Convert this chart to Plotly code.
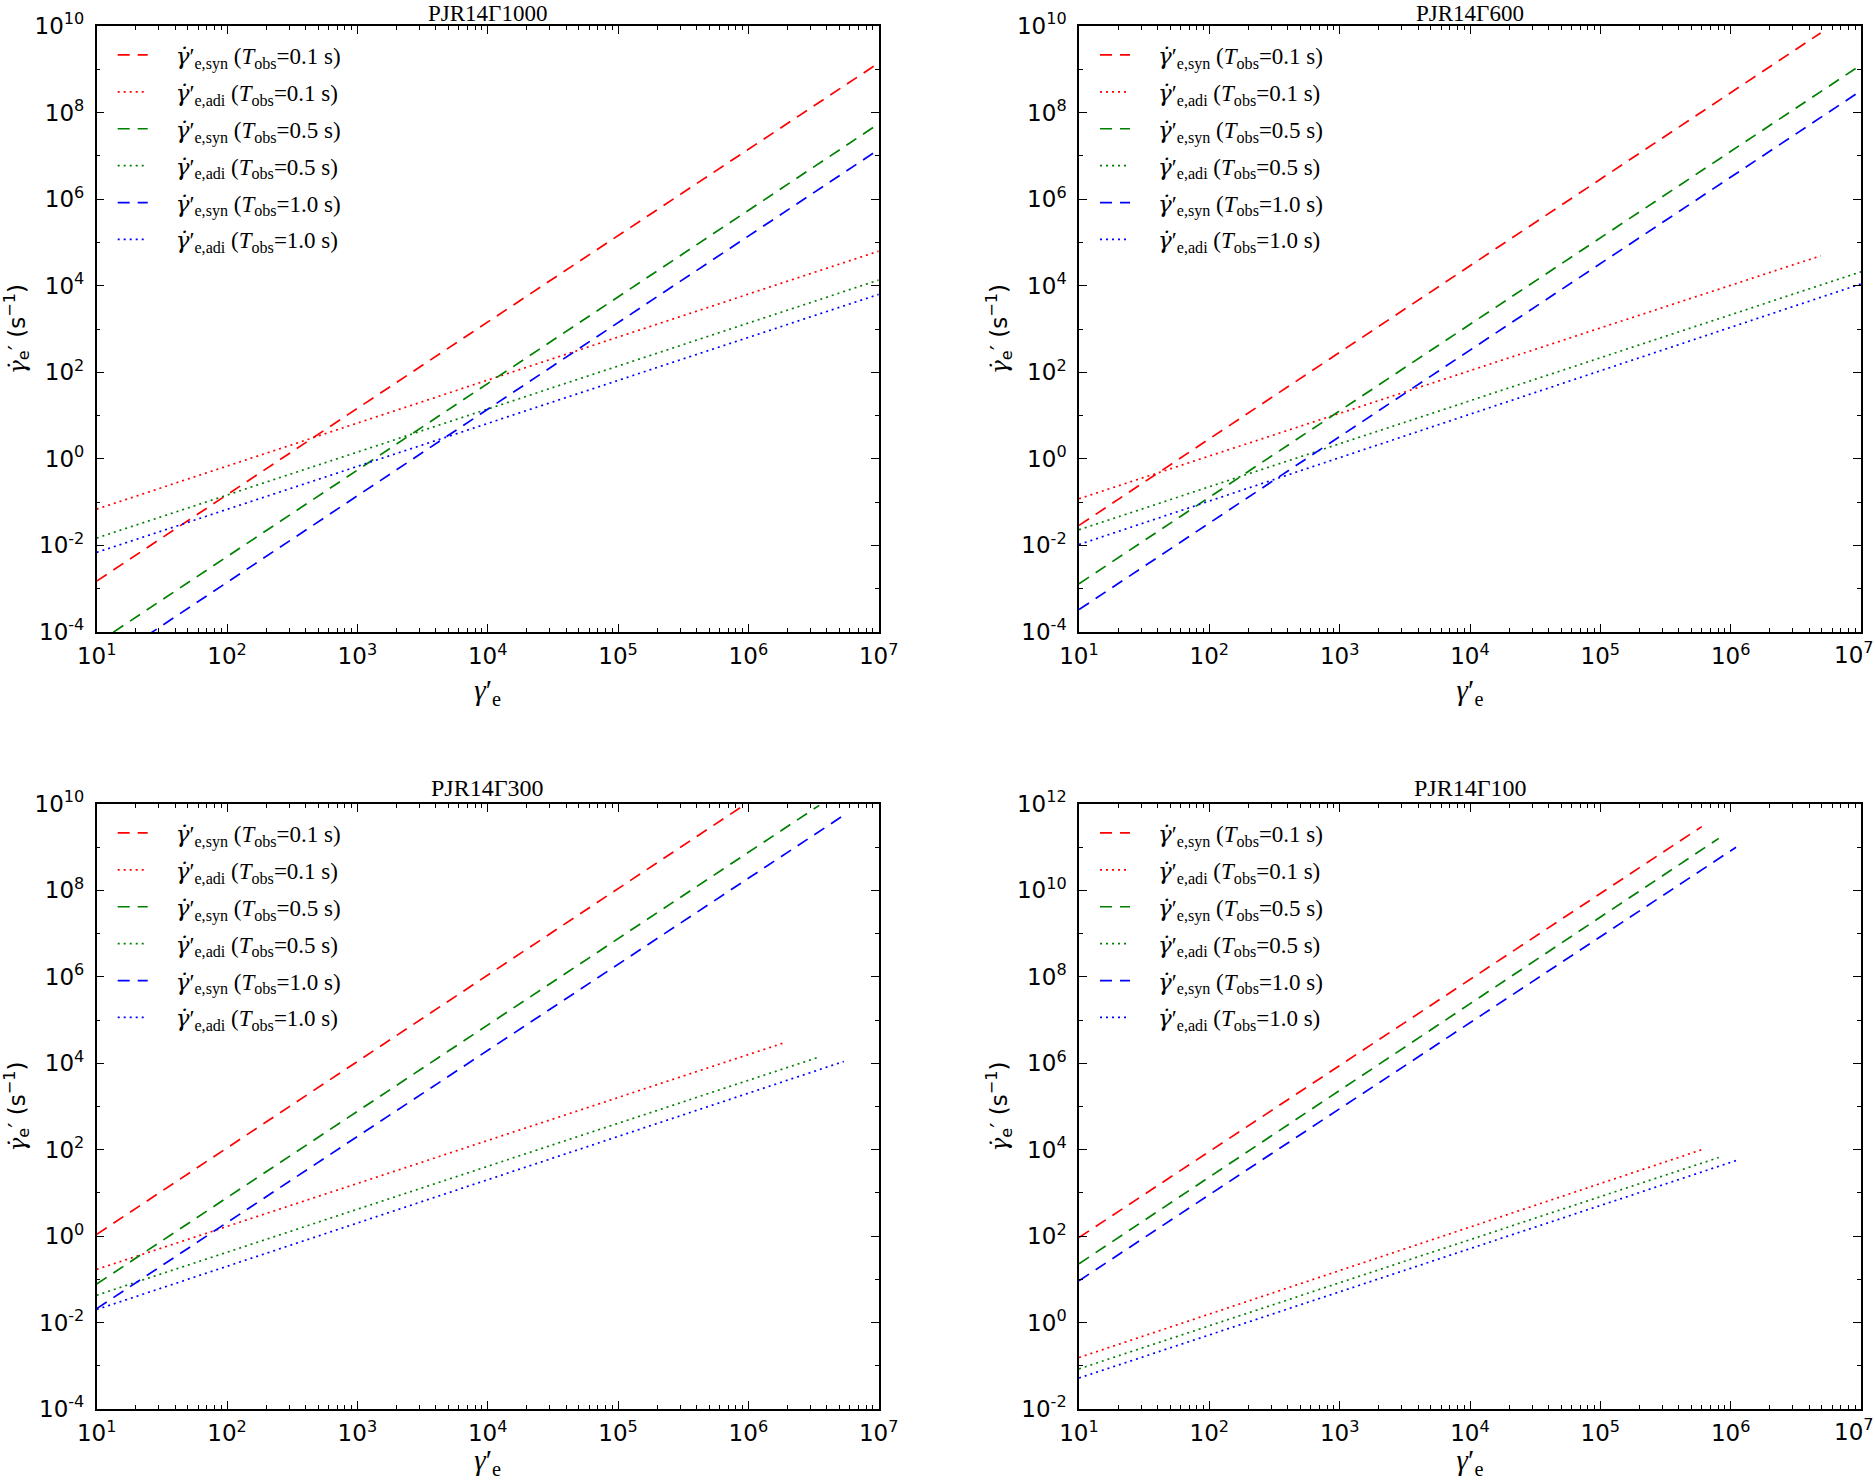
import plotly.graph_objects as go

# ---------------- data ----------------
panel_titles = ["PJR14Γ1000", "PJR14Γ600", "PJR14Γ300", "PJR14Γ100"]
GDOT = "<span style='font-family:DejaVu Serif'><i>γ̇</i></span>"
legend_labels = [
    GDOT + "′<sub>e,syn</sub> (<i>T</i><sub>obs</sub>=0.1 s)",
    GDOT + "′<sub>e,adi</sub> (<i>T</i><sub>obs</sub>=0.1 s)",
    GDOT + "′<sub>e,syn</sub> (<i>T</i><sub>obs</sub>=0.5 s)",
    GDOT + "′<sub>e,adi</sub> (<i>T</i><sub>obs</sub>=0.5 s)",
    GDOT + "′<sub>e,syn</sub> (<i>T</i><sub>obs</sub>=1.0 s)",
    GDOT + "′<sub>e,adi</sub> (<i>T</i><sub>obs</sub>=1.0 s)",
]
series_colors = ["#ff0000", "#ff0000", "#008000", "#008000", "#0000ff", "#0000ff"]
series_dash = ["12px,8px", "2px,4px", "12px,8px", "2px,4px", "12px,8px", "2px,4px"]

# gamma'_e start / end of each curve, per panel
g1000_gamma = [[10, 1e7], [10, 1e7], [10, 1e7], [10, 1e7], [10, 1e7], [10, 1e7]]
g1000_rate = [[1.5e-3, 1.4e9], [6.9e-2, 6.3e4], [5.5e-5, 5.5e7],
              [1.48e-2, 1.35e4], [1.4e-5, 1.4e7], [6.9e-3, 6.3e3]]

g600_gamma = [[10, 4.9e6], [10, 4.9e6], [10, 1e7], [10, 1e7], [10, 1e7], [10, 1e7]]
g600_rate = [[2.9e-2, 6.9e9], [1.2e-1, 4.9e4], [1.3e-3, 1.26e9],
             [2.3e-2, 2.1e4], [3.3e-4, 3.2e8], [1.05e-2, 1.1e4]]

g300_gamma = [[10, 1.86e6], [10, 1.86e6], [10, 3.5e6], [10, 3.5e6], [10, 5.4e6], [10, 5.4e6]]
g300_rate = [[1.1, 3.8e10], [1.7e-1, 2.95e4], [7.8e-2, 9.3e9],
             [4.3e-2, 1.4e4], [2.1e-2, 5.5e9], [2.0e-2, 1.1e4]]

g100_gamma = [[10, 6.0e5], [10, 6.0e5], [10, 8.1e5], [10, 8.1e5], [10, 1.1e6], [10, 1.1e6]]
g100_rate = [[93, 3.0e11], [1.55e-1, 1.0e4], [23, 1.6e11],
             [8.5e-2, 6.6e3], [9.3, 1.0e11], [5.2e-2, 5.6e3]]

panel_gamma = [g1000_gamma, g600_gamma, g300_gamma, g100_gamma]
panel_rate = [g1000_rate, g600_rate, g300_rate, g100_rate]

x_decades = [1, 2, 3, 4, 5, 6, 7]
y_decades = [[-4, -2, 0, 2, 4, 6, 8, 10], [-4, -2, 0, 2, 4, 6, 8, 10],
             [-4, -2, 0, 2, 4, 6, 8, 10], [-2, 0, 2, 4, 6, 8, 10, 12]]

# ---------------- layout geometry ----------------
W, H = 1875, 1480
col_x = [(96.7, 878.7), (1079.0, 1861.0)]
row_y = [(26.0, 632.0), (804.0, 1409.0)]

def px2x(p):
    return p / W

def px2y(p):
    return 1 - p / H

fig = go.Figure()

TICKFONT = dict(family="DejaVu Sans", size=23, color="black")
SERIF = "Liberation Serif"

def sup(n):
    return "10<sup>%d</sup>" % n

layout_upd = {}
annotations = []
for i in range(4):
    r, c = divmod(i, 2)
    xa = "x" if i == 0 else "x%d" % (i + 1)
    ya = "y" if i == 0 else "y%d" % (i + 1)
    xkey = "xaxis" if i == 0 else "xaxis%d" % (i + 1)
    ykey = "yaxis" if i == 0 else "yaxis%d" % (i + 1)
    lkey = "legend" if i == 0 else "legend%d" % (i + 1)

    for k in range(6):
        fig.add_trace(go.Scatter(
            x=panel_gamma[i][k], y=panel_rate[i][k], mode="lines",
            name="\u00a0\u00a0\u00a0\u00a0" + legend_labels[k],
            line=dict(color=series_colors[k], dash=series_dash[k], width=1.7),
            xaxis=xa, yaxis=ya, legend=lkey, legendgroup="p%d_%d" % (i, k),
            showlegend=True, cliponaxis=True,
        ))

    x0, x1 = col_x[c]
    yt, yb = row_y[r]
    minor_x = [m * 10 ** d for d in range(1, 7) for m in range(2, 10)]
    yd = y_decades[i]
    minor_y = [10 ** (d + 1) for d in yd[:-1]]

    xt_text = [sup(d) for d in x_decades]
    if c == 1:
        # last label sits at the page edge: draw it as a right-anchored note
        xt_text[-1] = ""
        annotations.append(dict(
            text=sup(x_decades[-1]), xref="paper", yref="paper",
            x=1.0, y=px2y(yb + 5), xanchor="right", yanchor="top",
            showarrow=False, font=TICKFONT, borderpad=0,
        ))

    layout_upd[xkey] = dict(
        type="log", range=[1, 7], domain=[px2x(x0), px2x(x1)], anchor=ya,
        automargin=False, ticklabeloverflow="allow",
        showline=True, linecolor="black", linewidth=1.5, mirror="allticks",
        ticks="inside", ticklen=8, tickwidth=1.2, tickcolor="black",
        tickmode="array", tickvals=[10 ** d for d in x_decades],
        ticktext=xt_text, tickfont=TICKFONT,
        ticklabelstandoff=3,
        minor=dict(tickmode="array", tickvals=minor_x, ticks="inside",
                   ticklen=4, tickwidth=1, tickcolor="black", showgrid=False),
        showgrid=False, zeroline=False,
        title=dict(text="<i>γ</i>′<sub>e</sub>", font=dict(family=SERIF, size=29, color="black"),
                   standoff=11),
    )
    layout_upd[ykey] = dict(
        type="log", range=[yd[0], yd[-1]], domain=[px2y(yb), px2y(yt)], anchor=xa,
        automargin=False, ticklabeloverflow="allow",
        showline=True, linecolor="black", linewidth=1.5, mirror="allticks",
        ticks="inside", ticklen=8, tickwidth=1.2, tickcolor="black",
        tickmode="array", tickvals=[10 ** d for d in yd],
        ticktext=[sup(d) for d in yd], tickfont=TICKFONT,
        ticklabelstandoff=6,
        minor=dict(tickmode="array", tickvals=minor_y, ticks="inside",
                   ticklen=4, tickwidth=1, tickcolor="black", showgrid=False),
        showgrid=False, zeroline=False,
        title=dict(text=GDOT + "<sub>e</sub>′ (s<sup>−1</sup>)",
                   font=dict(family="DejaVu Sans", size=23, color="black"), standoff=3),
    )
    layout_upd[lkey] = dict(
        x=px2x(x0 + 16), y=px2y(yt + 7.5), xanchor="left", yanchor="top",
        bgcolor="rgba(255,255,255,0)", borderwidth=0,
        font=dict(family=SERIF, size=23, color="black"),
        traceorder="grouped", tracegroupgap=4,
    )
    if r == 0:
        annotations.append(dict(
            text=panel_titles[i], xref="paper", yref="paper",
            x=px2x((x0 + x1) / 2), y=1.0, xanchor="center", yanchor="top",
            borderpad=0,
            showarrow=False, font=dict(family=SERIF, size=23, color="black"),
        ))
    else:
        annotations.append(dict(
            text=panel_titles[i], xref="paper", yref="paper",
            x=px2x((x0 + x1) / 2), y=px2y(yt - 16), xanchor="center", yanchor="middle",
            showarrow=False, font=dict(family=SERIF, size=24, color="black"),
        ))

fig.update_layout(
    width=W, height=H, margin=dict(l=0, r=0, t=0, b=0, autoexpand=False),
    paper_bgcolor="white", plot_bgcolor="white",
    annotations=annotations, **layout_upd,
)

fig.write_html("out.html")
